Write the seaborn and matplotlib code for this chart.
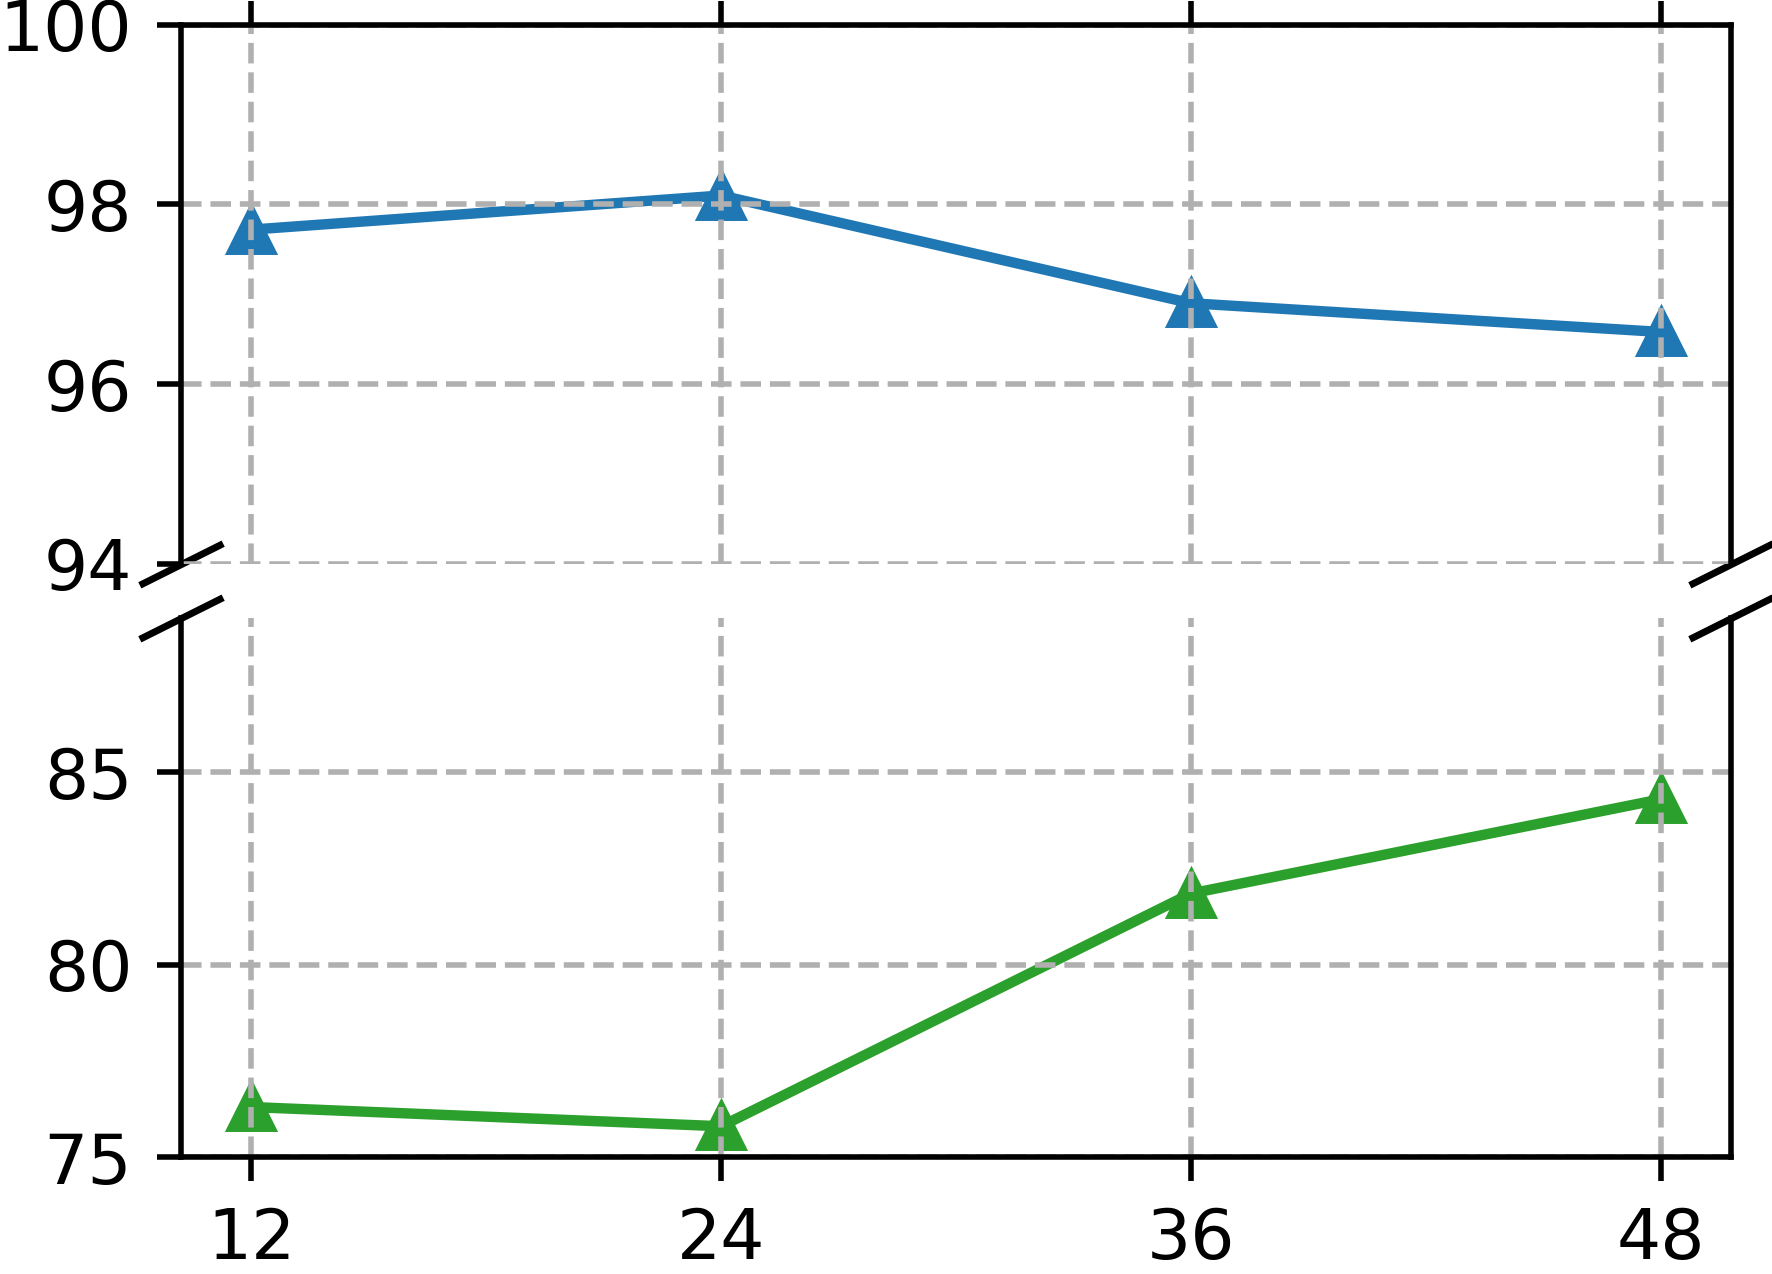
import matplotlib
matplotlib.use('Agg')
import matplotlib.pyplot as plt
import pandas as pd
import seaborn as sns

# data
x_vals = [12, 24, 36, 48]
blue_vals = [97.72, 98.10, 96.90, 96.58]
green_vals = [76.3, 75.8, 81.85, 84.3]

upper_ticks = [94, 96, 98, 100]
lower_ticks = [75, 80, 85]

df_blue = pd.DataFrame({'x': x_vals, 'y': blue_vals})
df_green = pd.DataFrame({'x': x_vals, 'y': green_vals})

plt.rcParams['font.family'] = ['DejaVu Sans']
plt.rcParams['font.size'] = 10

fig, (ax1, ax2) = plt.subplots(2, 1, sharex=True, figsize=(1772 / 500, 1274 / 500), dpi=500)
fig.subplots_adjust(left=0.1021, right=0.9769, top=0.9804, bottom=0.0918, hspace=0.102)

for ax in (ax1, ax2):
    for df_s, col in ((df_blue, '#1f77b4'), (df_green, '#2ca02c')):
        sns.lineplot(data=df_s, x='x', y='y', ax=ax, color=col, linewidth=1.5,
                     marker='^', markersize=6, markeredgecolor=col, markeredgewidth=1)
    ax.grid(True, linestyle='--', color='#b0b0b0', linewidth=0.8)
    ax.set_axisbelow(False)
    for sp in ax.spines.values():
        sp.set_zorder(3)
    ax.set_xlabel('')
    ax.set_ylabel('')
    ax.tick_params(length=3.5, width=0.8, labelsize=10)

ax1.set_ylim(94, 100)
ax1.set_yticks(upper_ticks)
ax2.set_ylim(75, 89)
ax2.set_yticks(lower_ticks)
ax2.set_xticks(x_vals)

# break between the two axes
ax1.spines['bottom'].set_visible(False)
ax2.spines['top'].set_visible(False)
ax1.xaxis.tick_top()
ax1.tick_params(labeltop=False)
ax2.xaxis.tick_bottom()

d = .5
kw = dict(marker=[(-1, -d), (1, d)], markersize=12, linestyle='none',
          color='k', mec='k', mew=1, clip_on=False)
ax1.plot([0, 1], [0, 0], transform=ax1.transAxes, **kw)
ax2.plot([0, 1], [1, 1], transform=ax2.transAxes, **kw)

fig.savefig('out.png', dpi=500)
